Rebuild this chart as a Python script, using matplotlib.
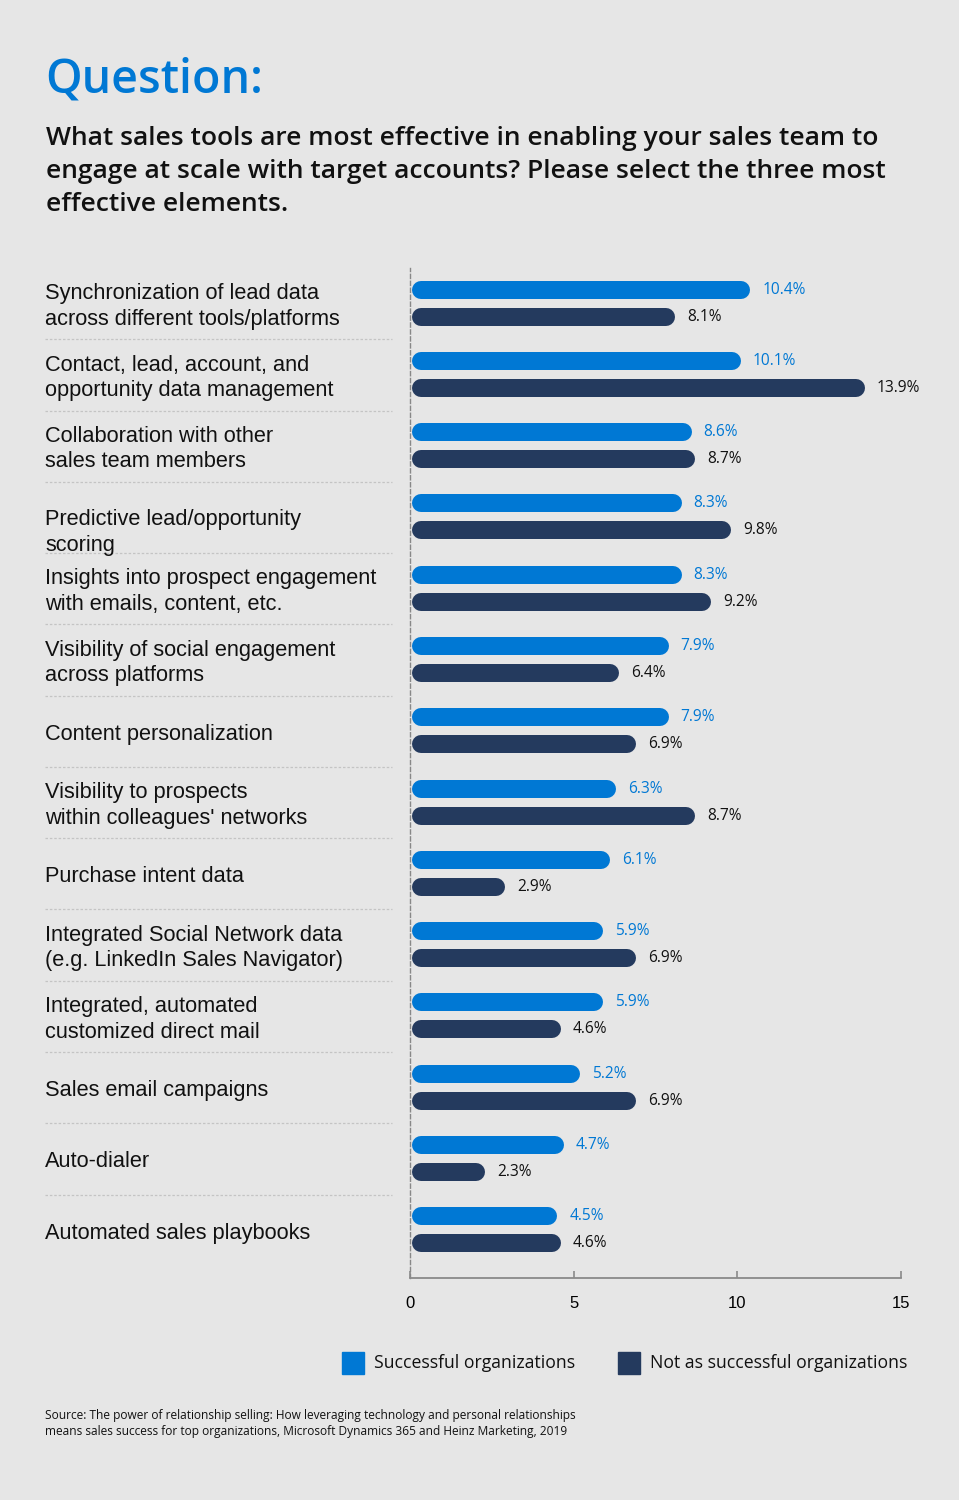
import matplotlib
matplotlib.use("Agg")
import matplotlib.pyplot as plt
from matplotlib.transforms import blended_transform_factory
from matplotlib.patches import Rectangle

categories = [
    "Synchronization of lead data\nacross different tools/platforms",
    "Contact, lead, account, and\nopportunity data management",
    "Collaboration with other\nsales team members",
    "Predictive lead/opportunity\nscoring",
    "Insights into prospect engagement\nwith emails, content, etc.",
    "Visibility of social engagement\nacross platforms",
    "Content personalization",
    "Visibility to prospects\nwithin colleagues' networks",
    "Purchase intent data",
    "Integrated Social Network data\n(e.g. LinkedIn Sales Navigator)",
    "Integrated, automated\ncustomized direct mail",
    "Sales email campaigns",
    "Auto-dialer",
    "Automated sales playbooks",
]
successful = [10.4, 10.1, 8.6, 8.3, 8.3, 7.9, 7.9, 6.3, 6.1, 5.9, 5.9, 5.2, 4.7, 4.5]
not_successful = [8.1, 13.9, 8.7, 9.8, 9.2, 6.4, 6.9, 8.7, 2.9, 6.9, 4.6, 6.9, 2.3, 4.6]
xticks = [0, 5, 10, 15]
series_names = ["Successful organizations", "Not as successful organizations"]

BG = "#E6E6E6"
BLUE = "#0078D4"
NAVY = "#243A5E"
W, H = 959, 1500

fig = plt.figure(figsize=(W / 100, H / 100), dpi=100, facecolor=BG)

def fy(py):
    return 1 - py / H

def fx(px):
    return px / W

ax_left, ax_right, ax_top, ax_bot = 410, 901, 268, 1278
ax = fig.add_axes([fx(ax_left), fy(ax_bot), fx(ax_right) - fx(ax_left), fy(ax_top) - fy(ax_bot)])
ax.set_facecolor("none")
ax.set_xlim(0, 15)
n = len(categories)
ax.set_ylim(n - 1 + 0.67, -0.5)

px_per_unit = (ax_right - ax_left) / 15.0
bar_px = 18
r_units = (bar_px / 2) / px_per_unit
lw_pt = bar_px * 72 / 100
off_blue = -14 / 71.3
off_navy = 13 / 71.3
start = 0.07

label_font = ["Open Sans", "DejaVu Sans"]
arial = ["Liberation Sans", "DejaVu Sans"]
for i in range(n):
    for vals, off, col, tcol in ((successful, off_blue, BLUE, BLUE), (not_successful, off_navy, NAVY, "#111111")):
        v = vals[i]
        y = i + off
        ax.plot([start + r_units, v - r_units], [y, y], color=col, lw=lw_pt,
                solid_capstyle="round", zorder=3)
        ax.text(v + 12 / px_per_unit, y, f"{v}%", color=tcol, fontsize=11.2,
                va="center", ha="left", family=label_font, zorder=4)

# spines and ticks
for s in ("top", "right"):
    ax.spines[s].set_visible(False)
ax.spines["left"].set_linestyle((0, (3, 2)))
ax.spines["left"].set_color("#888888")
ax.spines["left"].set_linewidth(1.0)
ax.spines["bottom"].set_color("#8a8a8a")
ax.spines["bottom"].set_linewidth(1.3)
ax.set_yticks([])
ax.set_xticks(xticks)
ax.set_xticklabels([str(t) for t in xticks])
ax.tick_params(axis="x", direction="in", length=5, width=1.2, color="#8a8a8a",
               pad=13, labelsize=12)
for t in ax.get_xticklabels():
    t.set_family(arial)

# category labels and separators
trans = blended_transform_factory(fig.transFigure, ax.transData)
nudge = {3: 0.17}
for i, c in enumerate(categories):
    y = i + 0.04 + nudge.get(i, 0)
    ax.text(fx(45), y, c, transform=trans, fontsize=15.7, va="center", ha="left",
            family=arial, color="#111111", linespacing=1.28)
    if i < n - 1:
        ax.plot([fx(45), fx(392)], [i + 0.5, i + 0.5], transform=trans,
                color="#c4c4c4", lw=0.9, ls=(0, (2, 1.5)), clip_on=False)

# title
fig.text(fx(45), fy(93), "Question:", color=BLUE, fontsize=33.5, fontweight="semibold",
         family=label_font, ha="left", va="baseline")
fig.text(fx(46), fy(126),
         "What sales tools are most effective in enabling your sales team to\n"
         "engage at scale with target accounts? Please select the three most\n"
         "effective elements.",
         color="#111111", fontsize=19, fontweight="semibold", family=label_font,
         ha="left", va="top", linespacing=1.42)

# legend
for (x0, col, name) in ((342, BLUE, series_names[0]), (618, NAVY, series_names[1])):
    fig.patches.append(Rectangle((fx(x0), fy(1374)), fx(22), 22 / H,
                                 transform=fig.transFigure, color=col))
    fig.text(fx(x0 + 32), fy(1363), name, fontsize=12.7, color="#111111",
             family=label_font, va="center", ha="left")

fig.text(fx(45), fy(1409),
         "Source: The power of relationship selling: How leveraging technology and personal relationships\n"
         "means sales success for top organizations, Microsoft Dynamics 365 and Heinz Marketing, 2019",
         fontsize=8.6, color="#111111", family=label_font, va="top", ha="left",
         linespacing=1.25)

fig.savefig("out.png", dpi=100, facecolor=BG)
